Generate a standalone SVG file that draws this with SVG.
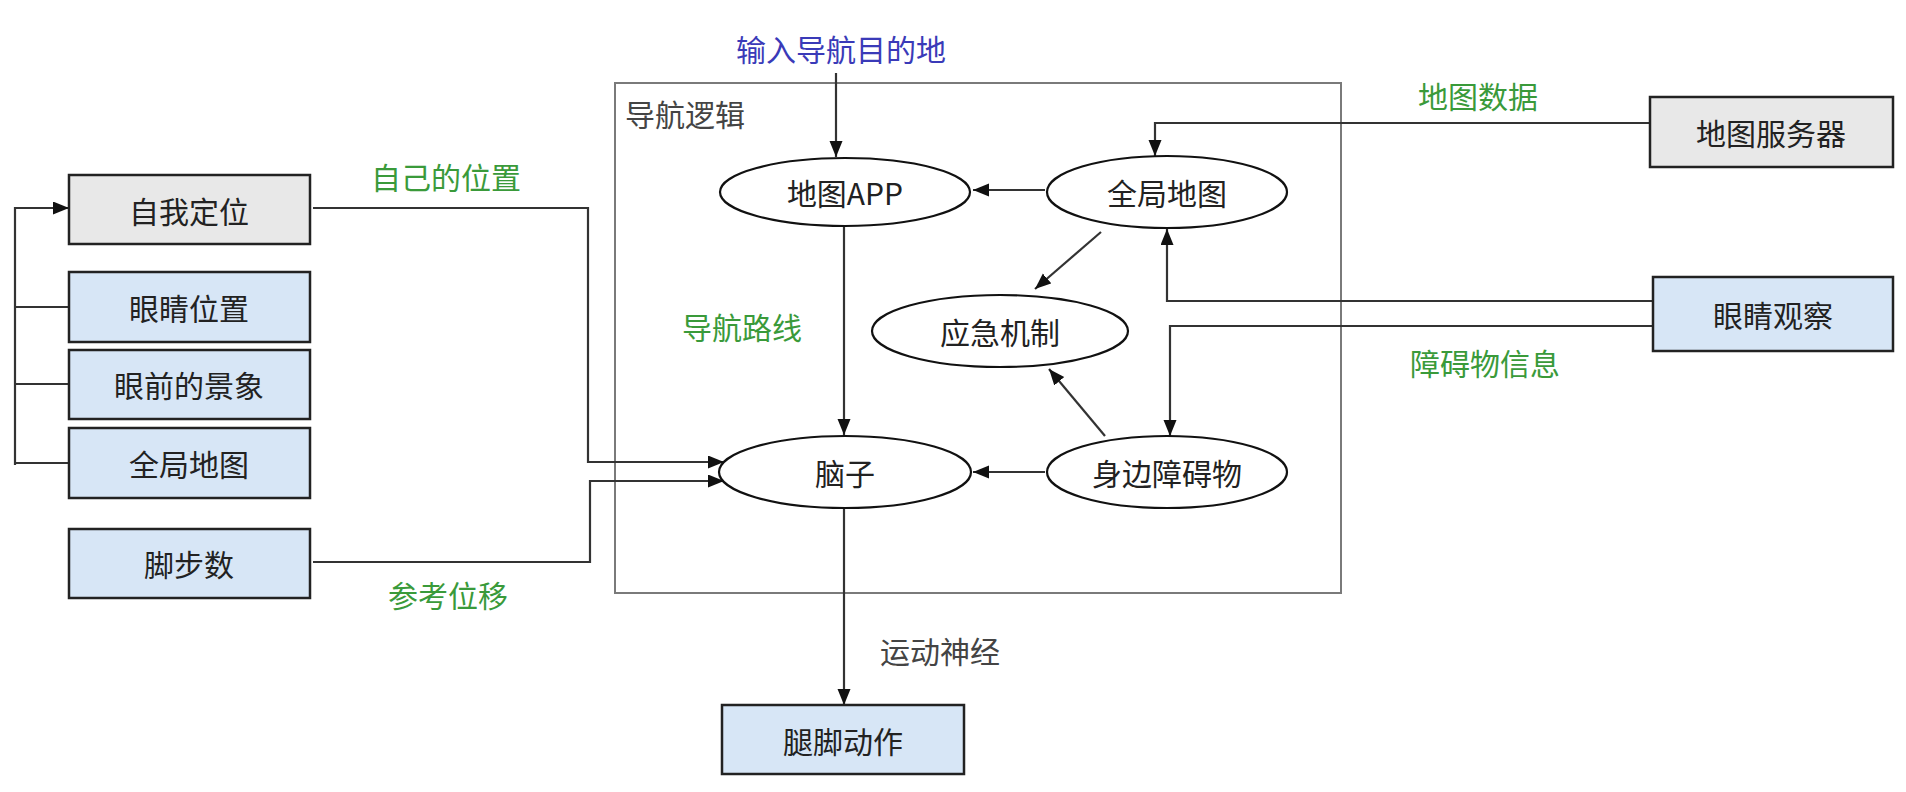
<svg xmlns="http://www.w3.org/2000/svg" width="1906" height="792" viewBox="0 0 1906 792">
<defs>
<marker id="arr" markerUnits="userSpaceOnUse" markerWidth="18" markerHeight="14" refX="16" refY="6.5" orient="auto">
<path d="M0,0 L16,6.5 L0,13 z" fill="#111"/>
</marker>
<style>
.box{stroke:#222;stroke-width:2.5}
.gray{fill:#e8e8e8}
.blue{fill:#d7e6f6}
.ell{fill:#fff;stroke:#111;stroke-width:2.2}
.t{font-family:"Noto Sans CJK SC","Microsoft YaHei",sans-serif;font-size:30px;fill:#222;text-anchor:middle;dominant-baseline:central}
.g{fill:#3a9a3a}
.bl{fill:#3a3ab8}
.dk{fill:#444}
.ln{fill:none;stroke:#333;stroke-width:2.2}
</style>
</defs>
<rect width="1906" height="792" fill="#fff"/>

<g id="nav-logic">
<rect x="615" y="83" width="726" height="510" fill="none" stroke="#7a7a7a" stroke-width="2"/>
<text class="t dk" x="625" y="113" style="text-anchor:start">导航逻辑</text>
</g>

<g id="connectors">
<path class="ln" d="M15,465 L15,208 L69,208" marker-end="url(#arr)"/>
<path class="ln" d="M15,307 L69,307"/>
<path class="ln" d="M15,384 L69,384"/>
<path class="ln" d="M15,463 L69,463"/>
<path class="ln" d="M313,208 L588,208 L588,462 L724,462" marker-end="url(#arr)"/>
<path class="ln" d="M313,562 L590,562 L590,481 L724,481" marker-end="url(#arr)"/>
<path class="ln" d="M836,73 L836,157" marker-end="url(#arr)"/>
<path class="ln" d="M1650,123 L1155,123 L1155,156" marker-end="url(#arr)"/>
<path class="ln" d="M1045,190 L973,190" marker-end="url(#arr)"/>
<path class="ln" d="M1101,232 L1035,289" marker-end="url(#arr)"/>
<path class="ln" d="M1653,301 L1167,301 L1167,229" marker-end="url(#arr)"/>
<path class="ln" d="M1653,326 L1170,326 L1170,436" marker-end="url(#arr)"/>
<path class="ln" d="M1105,436 L1049,369" marker-end="url(#arr)"/>
<path class="ln" d="M1045,472 L973,472" marker-end="url(#arr)"/>
<path class="ln" d="M844,227 L844,435" marker-end="url(#arr)"/>
<path class="ln" d="M844,508 L844,705" marker-end="url(#arr)"/>
<text class="t bl" x="841" y="48">输入导航目的地</text>
<text class="t g" x="446" y="176">自己的位置</text>
<text class="t g" x="448" y="594">参考位移</text>
<text class="t g" x="742" y="326">导航路线</text>
<text class="t g" x="1478" y="95">地图数据</text>
<text class="t g" x="1485" y="362">障碍物信息</text>
<text class="t dk" x="940" y="650">运动神经</text>
</g>

<g id="self-locate"><rect class="box gray" x="69" y="175" width="241" height="69"/><text class="t" x="189" y="210">自我定位</text></g>
<g id="eye-pos"><rect class="box blue" x="69" y="272" width="241" height="70"/><text class="t" x="189" y="307">眼睛位置</text></g>
<g id="eye-scene"><rect class="box blue" x="69" y="350" width="241" height="69"/><text class="t" x="189" y="384">眼前的景象</text></g>
<g id="global-map-left"><rect class="box blue" x="69" y="428" width="241" height="70"/><text class="t" x="189" y="463">全局地图</text></g>
<g id="steps"><rect class="box blue" x="69" y="529" width="241" height="69"/><text class="t" x="189" y="563">脚步数</text></g>

<g id="map-app"><ellipse class="ell" cx="845" cy="192" rx="125" ry="34"/><text class="t" x="845" y="192">地图APP</text></g>
<g id="global-map"><ellipse class="ell" cx="1167" cy="192" rx="120" ry="36"/><text class="t" x="1167" y="192">全局地图</text></g>
<g id="emergency"><ellipse class="ell" cx="1000" cy="331" rx="128" ry="36"/><text class="t" x="1000" y="331">应急机制</text></g>
<g id="brain"><ellipse class="ell" cx="845" cy="472" rx="126" ry="36"/><text class="t" x="845" y="472">脑子</text></g>
<g id="obstacles"><ellipse class="ell" cx="1167" cy="472" rx="120" ry="36"/><text class="t" x="1167" y="472">身边障碍物</text></g>

<g id="map-server"><rect class="box gray" x="1650" y="97" width="243" height="70"/><text class="t" x="1771" y="132">地图服务器</text></g>
<g id="eye-observe"><rect class="box blue" x="1653" y="277" width="240" height="74"/><text class="t" x="1773" y="314">眼睛观察</text></g>
<g id="leg-action"><rect class="box blue" x="722" y="705" width="242" height="69"/><text class="t" x="843" y="740">腿脚动作</text></g>
</svg>
